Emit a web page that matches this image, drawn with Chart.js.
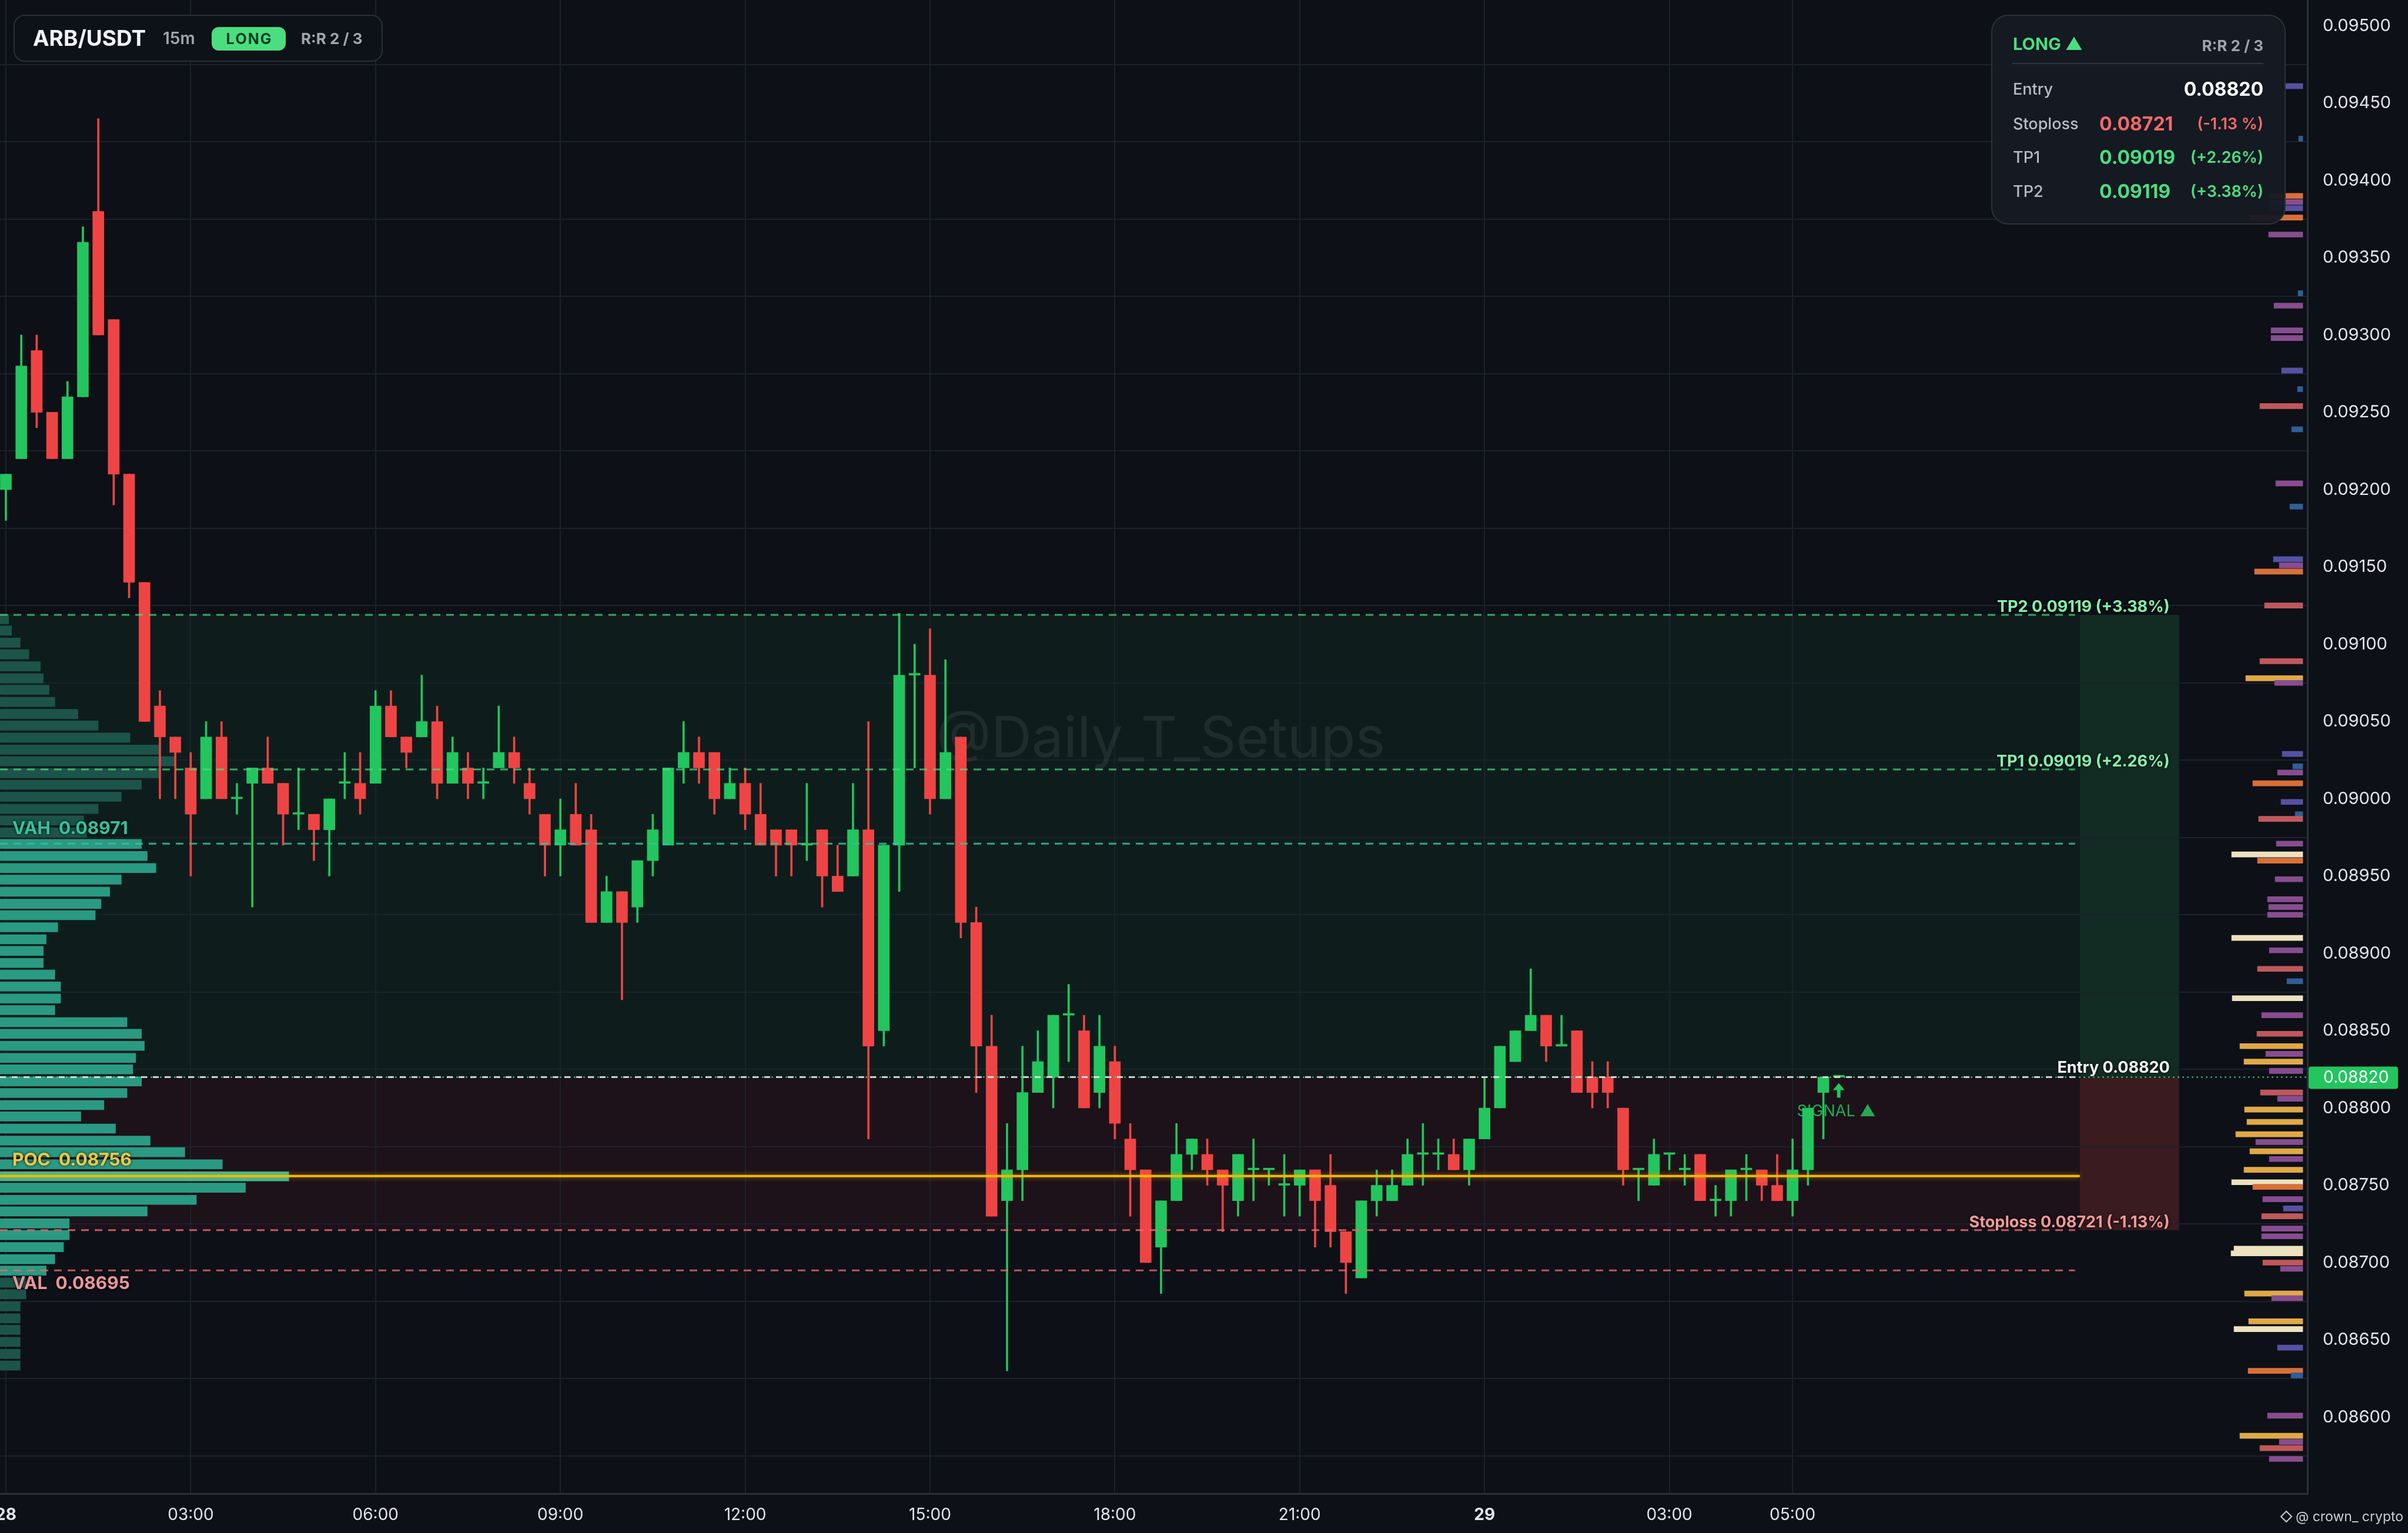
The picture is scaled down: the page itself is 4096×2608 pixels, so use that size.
<!DOCTYPE html>
<html>
<head>
<meta charset="utf-8">
<title>ARB/USDT 15m</title>
<script src="https://cdn.jsdelivr.net/npm/chart.js@4.4.1/dist/chart.umd.min.js"></script>
<style>
  html, body { margin: 0; padding: 0; background: #0d1017; }
  canvas { display: block; }
</style>
</head>
<body>
<canvas id="chart" width="4096" height="2608" style="width:4096px;height:2608px"></canvas>
<script>
// candles, 15m, index 0 = 28th 00:00
var opens = [0.09200,0.09220,0.09290,0.09250,0.09220,0.09260,0.09380,0.09310,0.09210,0.09140,
  0.09060,0.09040,0.09020,0.09000,0.09040,0.09000,0.09010,0.09020,0.09010,0.08990,
  0.08990,0.08980,0.09010,0.09010,0.09010,0.09060,0.09040,0.09040,0.09050,0.09010,
  0.09020,0.09010,0.09020,0.09030,0.09010,0.08990,0.08970,0.08990,0.08980,0.08920,
  0.08940,0.08930,0.08960,0.08970,0.09020,0.09030,0.09030,0.09000,0.09010,0.08990,
  0.08980,0.08980,0.08970,0.08980,0.08950,0.08950,0.08980,0.08850,0.08970,0.09080,
  0.09080,0.09000,0.09040,0.08920,0.08840,0.08740,0.08760,0.08810,0.08820,0.08860,
  0.08850,0.08810,0.08830,0.08780,0.08760,0.08710,0.08740,0.08770,0.08770,0.08760,
  0.08740,0.08760,0.08760,0.08750,0.08750,0.08760,0.08750,0.08720,0.08690,0.08740,
  0.08740,0.08750,0.08770,0.08770,0.08770,0.08760,0.08780,0.08800,0.08830,0.08850,
  0.08860,0.08840,0.08850,0.08820,0.08820,0.08800,0.08760,0.08750,0.08770,0.08760,
  0.08770,0.08740,0.08740,0.08760,0.08760,0.08750,0.08740,0.08760,0.08810,0.08820];
var highs = [0.09210,0.09300,0.09300,0.09250,0.09270,0.09370,0.09440,0.09310,0.09210,0.09140,
  0.09070,0.09040,0.09030,0.09050,0.09050,0.09010,0.09020,0.09040,0.09010,0.09020,
  0.08990,0.09000,0.09030,0.09030,0.09070,0.09070,0.09040,0.09080,0.09060,0.09040,
  0.09030,0.09020,0.09060,0.09040,0.09020,0.08990,0.09000,0.09010,0.08990,0.08950,
  0.08940,0.08960,0.08990,0.09020,0.09050,0.09040,0.09030,0.09020,0.09020,0.09010,
  0.08980,0.08980,0.09010,0.08980,0.08970,0.09010,0.09050,0.08970,0.09120,0.09100,
  0.09110,0.09090,0.09040,0.08930,0.08860,0.08790,0.08840,0.08850,0.08860,0.08880,
  0.08860,0.08860,0.08840,0.08790,0.08760,0.08740,0.08790,0.08780,0.08780,0.08760,
  0.08770,0.08780,0.08760,0.08770,0.08760,0.08760,0.08770,0.08720,0.08740,0.08760,
  0.08760,0.08780,0.08790,0.08780,0.08780,0.08780,0.08820,0.08840,0.08850,0.08890,
  0.08860,0.08860,0.08850,0.08830,0.08830,0.08800,0.08760,0.08780,0.08770,0.08770,
  0.08770,0.08750,0.08760,0.08770,0.08760,0.08770,0.08780,0.08800,0.08820,0.08820];
var lows = [0.09180,0.09220,0.09240,0.09220,0.09220,0.09260,0.09300,0.09190,0.09130,0.09050,
  0.09000,0.09000,0.08950,0.09000,0.09000,0.08990,0.08930,0.09010,0.08970,0.08980,
  0.08960,0.08950,0.09000,0.08990,0.09010,0.09040,0.09020,0.09040,0.09000,0.09010,
  0.09000,0.09000,0.09020,0.09010,0.08990,0.08950,0.08950,0.08970,0.08920,0.08920,
  0.08870,0.08920,0.08950,0.08970,0.09010,0.09010,0.08990,0.09000,0.08980,0.08970,
  0.08950,0.08950,0.08960,0.08930,0.08940,0.08950,0.08780,0.08840,0.08940,0.09020,
  0.08990,0.09000,0.08910,0.08810,0.08730,0.08630,0.08740,0.08810,0.08800,0.08830,
  0.08800,0.08800,0.08780,0.08730,0.08700,0.08680,0.08740,0.08760,0.08750,0.08720,
  0.08730,0.08740,0.08750,0.08730,0.08730,0.08710,0.08710,0.08680,0.08690,0.08730,
  0.08740,0.08750,0.08750,0.08760,0.08760,0.08750,0.08780,0.08800,0.08830,0.08850,
  0.08830,0.08840,0.08810,0.08800,0.08800,0.08750,0.08740,0.08750,0.08760,0.08750,
  0.08740,0.08730,0.08730,0.08740,0.08740,0.08740,0.08730,0.08750,0.08780,0.08820];
var closes = [0.09210,0.09280,0.09250,0.09220,0.09260,0.09360,0.09300,0.09210,0.09140,0.09050,
  0.09040,0.09030,0.08990,0.09040,0.09000,0.09000,0.09020,0.09010,0.08990,0.08990,
  0.08980,0.09000,0.09010,0.09000,0.09060,0.09040,0.09030,0.09050,0.09010,0.09030,
  0.09010,0.09010,0.09030,0.09020,0.09000,0.08970,0.08980,0.08970,0.08920,0.08940,
  0.08920,0.08960,0.08980,0.09020,0.09030,0.09020,0.09000,0.09010,0.08990,0.08970,
  0.08970,0.08970,0.08970,0.08950,0.08940,0.08980,0.08840,0.08970,0.09080,0.09080,
  0.09000,0.09030,0.08920,0.08840,0.08730,0.08760,0.08810,0.08830,0.08860,0.08860,
  0.08800,0.08840,0.08790,0.08760,0.08700,0.08740,0.08770,0.08780,0.08760,0.08750,
  0.08770,0.08760,0.08760,0.08750,0.08760,0.08740,0.08720,0.08700,0.08740,0.08750,
  0.08750,0.08770,0.08770,0.08770,0.08760,0.08780,0.08800,0.08840,0.08850,0.08860,
  0.08840,0.08840,0.08810,0.08810,0.08810,0.08760,0.08760,0.08770,0.08770,0.08760,
  0.08740,0.08740,0.08760,0.08760,0.08750,0.08740,0.08760,0.08800,0.08820,0.08820];

var xTickIndex = [0, 12, 24, 36, 48, 60, 72, 84, 96, 108, 116];
var xTickLabels = ['28', '03:00', '06:00', '09:00', '12:00', '15:00', '18:00', '21:00', '29', '03:00', '05:00'];
var priceTicks = [0.09500, 0.09450, 0.09400, 0.09350, 0.09300, 0.09250, 0.09200, 0.09150, 0.09100, 0.09050,
  0.09000, 0.08950, 0.08900, 0.08850, 0.08800, 0.08750, 0.08700, 0.08650, 0.08600];

// trade setup levels
var entry = 0.08820, stoploss = 0.08721, tp1 = 0.09019, tp2 = 0.09119;
var slPct = '-1.13', tp1Pct = '+2.26', tp2Pct = '+3.38';
var poc = 0.08756, vah = 0.08971, val = 0.08695;

// session volume profile (relative volume per price row)
var profilePrices = [0.091162,0.091088,0.091010,0.090935,0.090857,0.090779,0.090705,0.090627,0.090549,0.090474,
  0.090396,0.090318,0.090243,0.090166,0.090091,0.090013,0.089935,0.089860,0.089782,0.089708,
  0.089630,0.089552,0.089477,0.089399,0.089321,0.089247,0.089169,0.089091,0.089016,0.088938,
  0.088863,0.088786,0.088708,0.088633,0.088555,0.088480,0.088402,0.088324,0.088250,0.088172,
  0.088097,0.088019,0.087945,0.087867,0.087789,0.087714,0.087636,0.087558,0.087484,0.087406,
  0.087331,0.087253,0.087178,0.087100,0.087022,0.086948,0.086870,0.086795,0.086717,0.086639,
  0.086565,0.086487,0.086409,0.086334];
var profileVolumes = [3,4,7,10,14,15,17,19,27,34,45,55,61,55,49,42,34,29,30,49,
  51,54,42,38,35,33,20,16,15,15,19,21,21,19,44,49,50,47,46,49,
  44,36,28,40,52,64,77,100,85,68,51,24,24,22,19,16,9,9,7,7,
  7,7,7,7];

// order book heat levels on the right edge
var heatPrices = [0.09461,0.09427,0.09390,0.09386,0.09382,0.09376,0.09365,0.09327,0.09319,0.09303,
  0.09298,0.09277,0.09265,0.09254,0.09239,0.09204,0.09189,0.09155,0.09151,0.09147,
  0.09125,0.09089,0.09078,0.09075,0.09029,0.09021,0.09017,0.09010,0.08998,0.08990,
  0.08987,0.08971,0.08964,0.08960,0.08948,0.08935,0.08930,0.08925,0.08910,0.08902,
  0.08890,0.08882,0.08871,0.08860,0.08848,0.08840,0.08835,0.08830,0.08824,0.08810,
  0.08806,0.08799,0.08791,0.08783,0.08778,0.08772,0.08767,0.08760,0.08752,0.08749,
  0.08741,0.08735,0.08730,0.08722,0.08717,0.08709,0.08706,0.08700,0.08696,0.08680,
  0.08677,0.08662,0.08657,0.08645,0.08630,0.08627,0.08601,0.08588,0.08584,0.08580,0.08573];
var heatSizes = [30,7,57,57,57,90,58,8,49,54,
  54,36,9,73,19,46,22,50,40,82,
  65,73,97,48,35,17,43,85,37,13,
  75,45,121,77,47,60,58,60,121,57,
  77,27,120,70,78,107,63,100,57,72,
  43,99,95,114,80,90,57,100,121,85,
  68,33,70,70,70,117,122,68,38,99,
  53,92,117,43,93,20,60,107,40,73,57];
var heatKinds = ['v','b','o','p','v','o','p','b','p','p',
  'p','v','b','s','b','p','b','v','p','o',
  's','s','g','p','v','b','p','o','v','b',
  's','p','c','o','p','p','p','p','c','p',
  's','b','c','p','s','g','p','g','p','s',
  'p','g','g','g','p','g','p','g','c','o',
  'p','v','s','p','p','c','c','s','p','g',
  'p','g','c','v','o','b','p','g','p','s','p'];

var FONT = 'Inter, "Noto Sans", "DejaVu Sans", sans-serif';
var GREEN = '#22c55e', RED = '#ef4444';
var heatColors = { p: '#874d90', v: '#5651a3', b: '#2e5f96', o: '#d96f38', s: '#c0585b', g: '#e0a945', c: '#ece2bd' };
var zoneStart = 134.65, zoneEnd = 141.1;

var bodies = [], wicks = [];
for (var i = 0; i < opens.length; i++) {
  bodies.push({ x: i, y: [opens[i], closes[i]] });
  wicks.push({ x: i, y: [lows[i], highs[i]] });
}
var profileData = profilePrices.map(function (p, k) { return { x: profileVolumes[k], y: p }; });
var heatData = heatPrices.map(function (p, k) { return { x: [0, heatSizes[k]], y: p }; });

function candleColor(c) {
  var k = c.dataIndex;
  return closes[k] >= opens[k] ? GREEN : RED;
}
function profileColor(c) {
  var p = profilePrices[c.dataIndex];
  if (profileVolumes[c.dataIndex] === 100) return '#36b597';
  if (p <= vah + 0.00001 && p >= val - 0.00001) return '#2a9a83';
  return '#1d5449';
}
// no label overflow padding, the plot runs to the canvas edges
function noPad(s) { s.paddingLeft = 0; s.paddingRight = 0; s.paddingTop = 0; s.paddingBottom = 0; }

function rrect(ctx, x, y, w, h, r) {
  ctx.beginPath();
  ctx.moveTo(x + r, y);
  ctx.arcTo(x + w, y, x + w, y + h, r);
  ctx.arcTo(x + w, y + h, x, y + h, r);
  ctx.arcTo(x, y + h, x, y, r);
  ctx.arcTo(x, y, x + w, y, r);
  ctx.closePath();
}

function hline(ctx, y, x1, x2, color, width, dash) {
  ctx.save();
  ctx.strokeStyle = color;
  ctx.lineWidth = width;
  ctx.setLineDash(dash || []);
  ctx.beginPath();
  ctx.moveTo(x1, y);
  ctx.lineTo(x2, y);
  ctx.stroke();
  ctx.restore();
}

// zones behind the grid
var backdrop = {
  id: 'backdrop',
  beforeDraw: function (chart) {
    var c = chart.ctx, a = chart.chartArea, xs = chart.scales.x, ys = chart.scales.y;
    var x1 = xs.getPixelForValue(zoneStart), x2 = xs.getPixelForValue(zoneEnd);
    var yT = ys.getPixelForValue(tp2), yE = ys.getPixelForValue(entry), yS = ys.getPixelForValue(stoploss);
    c.save();
    c.fillStyle = '#0d1017';
    c.fillRect(0, 0, chart.width, chart.height);
    c.fillStyle = 'rgba(16,60,40,0.3)';
    c.fillRect(a.left, yT, x1 - a.left, yE - yT);
    c.fillStyle = 'rgba(120,30,40,0.16)';
    c.fillRect(a.left, yE, x1 - a.left, yS - yE);
    c.fillStyle = '#122c23';
    c.fillRect(x1, yT, x2 - x1, yE - yT);
    c.fillStyle = '#3a1b20';
    c.fillRect(x1, yE, x2 - x1, yS - yE);
    c.restore();
  },
  beforeDatasetsDraw: function (chart) {
    var c = chart.ctx;
    c.save();
    c.font = '96px ' + FONT;
    c.fillStyle = 'rgba(255,255,255,0.07)';
    c.textBaseline = 'middle';
    c.fillText('@Daily_T_Setups', 1593, 1259);
    c.restore();
  }
};

// level lines over the candles
var levels = {
  id: 'levels',
  afterDatasetsDraw: function (chart) {
    var c = chart.ctx, a = chart.chartArea, xs = chart.scales.x, ys = chart.scales.y;
    var xe = xs.getPixelForValue(zoneStart) - 8;
    var dash = [13, 10];
    hline(c, ys.getPixelForValue(tp2), a.left, xe, 'rgba(74,222,128,0.72)', 3, dash);
    hline(c, ys.getPixelForValue(tp1), a.left, xe, 'rgba(74,222,128,0.72)', 3, dash);
    hline(c, ys.getPixelForValue(vah), a.left, xe, 'rgba(52,194,154,0.85)', 3, dash);
    hline(c, ys.getPixelForValue(entry), a.left, a.right, 'rgba(74,222,128,0.85)', 2, [3, 5]);
    hline(c, ys.getPixelForValue(entry), a.left, xe, 'rgba(225,229,234,0.9)', 3, [10, 10]);
    hline(c, ys.getPixelForValue(stoploss), a.left, xe, 'rgba(232,102,112,0.85)', 3, dash);
    hline(c, ys.getPixelForValue(val), a.left, xe, 'rgba(232,102,112,0.8)', 3, dash);
    c.save();
    c.shadowColor = 'rgba(245,183,0,0.6)';
    c.shadowBlur = 8;
    hline(c, ys.getPixelForValue(poc), a.left, xe + 8, '#f5b800', 4);
    c.restore();
  },
  afterDraw: function (chart) {
    var c = chart.ctx, a = chart.chartArea, xs = chart.scales.x, ys = chart.scales.y;
    var xr = xs.getPixelForValue(zoneEnd) - 16;
    c.save();
    c.shadowColor = 'rgba(0,0,0,0.85)';
    c.shadowBlur = 5;
    c.textBaseline = 'alphabetic';

    // left profile labels
    c.font = 'bold 30px ' + FONT;
    c.textAlign = 'left';
    c.fillStyle = '#34c29a';
    c.fillText('VAH  ' + vah.toFixed(5), 21, ys.getPixelForValue(vah) - 16);
    c.fillStyle = '#f2c744';
    c.fillText('POC  ' + poc.toFixed(5), 21, ys.getPixelForValue(poc) - 18);
    c.fillStyle = '#e8969b';
    c.fillText('VAL  ' + val.toFixed(5), 21, ys.getPixelForValue(val) + 32);

    // right setup labels
    c.font = 'bold 27px ' + FONT;
    c.textAlign = 'right';
    c.fillStyle = '#86efac';
    c.fillText('TP2 ' + tp2.toFixed(5) + ' (' + tp2Pct + '%)', xr, ys.getPixelForValue(tp2) - 5);
    c.fillText('TP1 ' + tp1.toFixed(5) + ' (' + tp1Pct + '%)', xr, ys.getPixelForValue(tp1) - 5);
    c.fillStyle = '#f3f4f6';
    c.fillText('Entry ' + entry.toFixed(5), xr, ys.getPixelForValue(entry) - 7);
    c.fillStyle = '#f19a9a';
    c.fillText('Stoploss ' + stoploss.toFixed(5) + ' (' + slPct + '%)', xr, ys.getPixelForValue(stoploss) - 5);
    c.restore();

    // signal marker on the last candle
    var sx = xs.getPixelForValue(opens.length - 1);
    var sy = ys.getPixelForValue(entry);
    c.save();
    c.fillStyle = '#22c55e';
    c.beginPath();
    c.moveTo(sx, sy + 10);
    c.lineTo(sx + 10, sy + 22);
    c.lineTo(sx - 10, sy + 22);
    c.closePath();
    c.fill();
    c.fillRect(sx - 3, sy + 21, 6, 14);
    c.font = '27px ' + FONT;
    c.fillStyle = 'rgba(34,197,94,0.85)';
    c.textAlign = 'left';
    c.textBaseline = 'middle';
    c.fillText('SIGNAL \u25B2', sx - 71, sy + 58);
    c.restore();

    // last price tag on the axis
    c.save();
    c.fillStyle = '#22c55e';
    rrect(c, a.right + 2, sy - 18, 152, 38, 4);
    c.fill();
    c.fillStyle = '#ffffff';
    c.font = '28px ' + FONT;
    c.textBaseline = 'middle';
    c.fillText(entry.toFixed(5), a.right + 27, sy + 1);
    c.restore();

    // title pill
    c.save();
    rrect(c, 24, 26, 626, 78, 18);
    c.fillStyle = '#0d1118';
    c.fill();
    c.strokeStyle = '#2a2f3a';
    c.lineWidth = 2;
    c.stroke();
    c.textBaseline = 'middle';
    c.fillStyle = '#f1f3f6';
    c.font = 'bold 37px ' + FONT;
    c.fillText('ARB/USDT', 56, 67);
    c.fillStyle = '#a0a6b0';
    c.font = '600 28px ' + FONT;
    c.fillText('15m', 277, 67);
    rrect(c, 360, 46, 126, 40, 12);
    c.fillStyle = '#4ade80';
    c.fill();
    c.fillStyle = '#0b3b1f';
    c.font = 'bold 25px ' + FONT;
    c.textAlign = 'center';
    c.fillText('L O N G'.replace(/ /g, '\u200A'), 423, 67);
    c.textAlign = 'left';
    c.fillStyle = '#a0a6b0';
    c.font = 'bold 26px ' + FONT;
    c.fillText('R:R 2 / 3', 512, 67);
    c.restore();

    // setup card
    c.save();
    rrect(c, 3388, 26, 499, 355, 28);
    c.fillStyle = 'rgba(22,26,34,0.96)';
    c.fill();
    c.strokeStyle = '#2c313c';
    c.lineWidth = 2;
    c.stroke();
    c.textBaseline = 'middle';
    c.font = 'bold 29px ' + FONT;
    c.fillStyle = '#4ade80';
    c.fillText('LONG \u25B2', 3424, 76);
    c.font = 'bold 26px ' + FONT;
    c.fillStyle = '#9ca3af';
    c.textAlign = 'right';
    c.fillText('R:R 2 / 3', 3850, 79);
    c.fillStyle = '#2f3540';
    c.fillRect(3423, 107, 427, 2);
    var rows = [
      ['Entry', entry.toFixed(5), '', '#ffffff', 153],
      ['Stoploss', stoploss.toFixed(5), '(' + '-1.13 %' + ')', '#f06a6a', 212],
      ['TP1', tp1.toFixed(5), '(' + tp1Pct + '%)', '#4ade80', 269],
      ['TP2', tp2.toFixed(5), '(' + tp2Pct + '%)', '#4ade80', 327]
    ];
    rows.forEach(function (r, k) {
      c.textAlign = 'left';
      c.font = '500 27px ' + FONT;
      c.fillStyle = '#b5bac3';
      c.fillText(r[0], 3424, r[4]);
      c.font = 'bold 32px ' + FONT;
      c.fillStyle = r[3];
      if (k === 0) {
        c.textAlign = 'right';
        c.fillText(r[1], 3850, r[4]);
      } else {
        c.fillText(r[1], 3571, r[4]);
        c.textAlign = 'right';
        c.font = '600 27px ' + FONT;
        c.fillText(r[2], 3850, r[4]);
      }
    });
    c.restore();

    // credit, bottom right
    c.save();
    c.strokeStyle = '#c7cbd2';
    c.lineWidth = 2;
    c.beginPath();
    c.moveTo(3889, 2571); c.lineTo(3898, 2580); c.lineTo(3889, 2589); c.lineTo(3880, 2580); c.closePath();
    c.stroke();
    c.fillStyle = '#c7cbd2';
    c.font = '23px ' + FONT;
    c.textBaseline = 'middle';
    c.fillText('@ crown_ crypto', 3905, 2581);
    c.restore();
  }
};

new Chart(document.getElementById('chart'), {
  type: 'bar',
  data: {
    datasets: [
      { label: 'body', data: bodies, backgroundColor: candleColor, barThickness: 19, minBarLength: 3,
        grouped: false, order: 0, xAxisID: 'x', yAxisID: 'y', borderWidth: 0 },
      { label: 'wick', data: wicks, backgroundColor: candleColor, barThickness: 3,
        grouped: false, order: 1, xAxisID: 'x', yAxisID: 'y', borderWidth: 0 },
      { label: 'profile', indexAxis: 'y', data: profileData, backgroundColor: profileColor, barThickness: 16,
        grouped: false, order: 3, xAxisID: 'xp', yAxisID: 'y', borderWidth: 0 },
      { label: 'heat', indexAxis: 'y', data: heatData,
        backgroundColor: function (c) { return heatColors[heatKinds[c.dataIndex]]; },
        barThickness: 9, grouped: false, order: 3, xAxisID: 'xh', yAxisID: 'y', borderWidth: 0 }
    ]
  },
  options: {
    responsive: false,
    devicePixelRatio: 1,
    animation: false,
    events: [],
    layout: { padding: 0 },
    plugins: { legend: { display: false }, tooltip: { enabled: false } },
    scales: {
      x: {
        type: 'linear', position: 'bottom', offset: false,
        min: -0.3817, max: 149.43,
        afterBuildTicks: function (s) { s.ticks = xTickIndex.map(function (v) { return { value: v }; }); },
        afterFit: function (s) { s.height = 67; noPad(s); },
        grid: { color: '#1c212b', lineWidth: 2, drawTicks: false, offset: false },
        border: { display: true, color: '#2b303b', width: 3 },
        ticks: {
          color: '#e1e4ea', padding: 20, maxRotation: 0, autoSkip: false,
          font: function (c) {
            var k = c.tick ? xTickIndex.indexOf(c.tick.value) : -1;
            var day = k >= 0 && xTickLabels[k].length <= 2;
            return { family: FONT, size: 28, weight: day ? 'bold' : 'normal' };
          },
          callback: function (v) { var k = xTickIndex.indexOf(v); return k < 0 ? '' : xTickLabels[k]; }
        }
      },
      y: {
        type: 'linear', position: 'right', offset: false,
        min: 0.0855057, max: 0.095167,
        afterBuildTicks: function (s) { s.ticks = priceTicks.map(function (v) { return { value: v }; }); },
        afterFit: function (s) { s.width = 171; noPad(s); },
        grid: { color: '#1c212b', lineWidth: 2, drawTicks: false },
        border: { display: true, color: '#2b303b', width: 3 },
        ticks: {
          color: '#e1e4ea', padding: 26, font: { family: FONT, size: 29 },
          callback: function (v) { return Number(v).toFixed(5); }
        }
      },
      xp: { type: 'linear', axis: 'x', display: false, offset: false, min: 0, max: 799 },
      xh: { type: 'linear', axis: 'x', display: false, offset: false, reverse: true, min: -8, max: 3917 }
    }
  },
  plugins: [backdrop, levels]
});
</script>
</body>
</html>
